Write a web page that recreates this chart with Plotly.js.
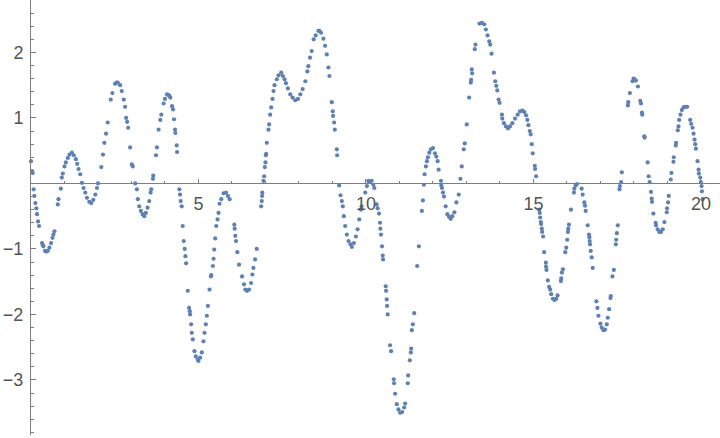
<!DOCTYPE html>
<html>
<head>
<meta charset="utf-8">
<script src="https://cdn.plot.ly/plotly-3.0.1.min.js"></script>
<style>html,body{margin:0;padding:0;background:#fff;}#chart{width:720px;height:438px;}</style>
</head>
<body>
<div id="chart"></div>
<script>
const xs = [0.00,0.03,0.05,0.08,0.10,0.13,0.16,0.18,0.21,0.24,0.33,0.35,0.37,0.42,0.46,0.50,0.55,0.60,0.64,0.67,0.70,0.80,0.82,0.89,0.92,0.95,1.00,1.04,1.10,1.15,1.22,1.28,1.34,1.38,1.42,1.47,1.52,1.57,1.62,1.67,1.74,1.80,1.86,1.92,1.97,2.00,2.10,2.15,2.19,2.24,2.29,2.38,2.43,2.51,2.55,2.59,2.66,2.71,2.77,2.81,2.84,2.87,2.90,2.96,3.01,3.04,3.11,3.16,3.19,3.23,3.28,3.33,3.38,3.43,3.48,3.53,3.57,3.59,3.64,3.65,3.73,3.76,3.81,3.86,3.89,3.96,4.00,4.06,4.10,4.13,4.16,4.21,4.24,4.27,4.30,4.31,4.35,4.36,4.43,4.45,4.47,4.50,4.53,4.56,4.59,4.61,4.63,4.68,4.72,4.74,4.75,4.78,4.80,4.83,4.88,4.92,4.98,5.00,5.05,5.10,5.15,5.18,5.22,5.25,5.28,5.33,5.37,5.38,5.43,5.45,5.47,5.50,5.53,5.57,5.60,5.63,5.68,5.75,5.82,5.88,5.93,6.07,6.08,6.10,6.12,6.16,6.21,6.30,6.36,6.40,6.45,6.51,6.57,6.61,6.64,6.69,6.74,6.87,6.89,6.90,6.905,6.94,6.96,6.98,7.00,7.01,7.02,7.04,7.09,7.11,7.14,7.17,7.21,7.24,7.27,7.34,7.39,7.47,7.52,7.57,7.61,7.67,7.74,7.81,7.89,7.97,8.04,8.11,8.19,8.25,8.28,8.33,8.38,8.44,8.50,8.58,8.61,8.66,8.73,8.78,8.83,8.88,8.91,8.98,9.01,9.02,9.05,9.07,9.13,9.14,9.20,9.24,9.28,9.31,9.34,9.38,9.43,9.48,9.54,9.58,9.64,9.70,9.75,9.80,9.85,9.87,9.98,10.03,10.07,10.10,10.17,10.22,10.25,10.32,10.35,10.39,10.42,10.43,10.45,10.48,10.50,10.51,10.59,10.60,10.62,10.63,10.65,10.72,10.75,10.83,10.84,10.87,10.92,10.97,11.02,11.08,11.14,11.17,11.25,11.26,11.31,11.34,11.35,11.37,11.40,11.44,11.53,11.58,11.67,11.70,11.73,11.75,11.79,11.82,11.85,11.89,11.94,12.00,12.06,12.10,12.14,12.17,12.24,12.25,12.27,12.30,12.33,12.38,12.43,12.48,12.53,12.58,12.64,12.70,12.77,12.82,12.86,12.92,12.95,13.01,13.08,13.13,13.14,13.16,13.17,13.25,13.27,13.39,13.46,13.53,13.58,13.63,13.68,13.71,13.75,13.82,13.86,13.89,13.92,13.96,13.99,14.06,14.07,14.12,14.18,14.24,14.30,14.37,14.45,14.53,14.60,14.67,14.73,14.78,14.82,14.85,14.89,14.92,14.95,14.98,15.04,15.05,15.08,15.17,15.19,15.20,15.22,15.23,15.25,15.26,15.29,15.32,15.37,15.375,15.39,15.43,15.47,15.50,15.53,15.58,15.63,15.68,15.72,15.82,15.83,15.85,15.88,15.95,15.98,16.01,16.03,16.04,16.06,16.12,16.21,16.22,16.26,16.30,16.44,16.47,16.52,16.54,16.56,16.62,16.66,16.67,16.68,16.69,16.71,16.74,16.77,16.88,16.91,16.94,17.00,17.04,17.09,17.14,17.19,17.22,17.26,17.30,17.31,17.36,17.40,17.46,17.47,17.49,17.52,17.57,17.58,17.62,17.64,17.82,17.83,17.88,17.96,17.99,18.02,18.06,18.12,18.19,18.21,18.24,18.25,18.31,18.32,18.41,18.44,18.47,18.51,18.53,18.54,18.58,18.65,18.66,18.71,18.76,18.81,18.86,18.91,18.98,18.99,19.02,19.04,19.10,19.12,19.18,19.19,19.25,19.26,19.31,19.33,19.35,19.39,19.43,19.48,19.53,19.59,19.68,19.71,19.75,19.78,19.81,19.83,19.85,19.90,19.93,19.94,19.98,20.00,20.02,20.03,20.05];
const ys = [0.34,0.19,0.16,-0.09,-0.19,-0.30,-0.38,-0.47,-0.58,-0.65,-0.91,-0.94,-0.96,-1.03,-1.04,-1.03,-0.98,-0.91,-0.83,-0.78,-0.73,-0.32,-0.24,-0.08,0.09,0.15,0.26,0.32,0.39,0.44,0.47,0.43,0.37,0.30,0.22,0.14,0.01,-0.07,-0.14,-0.22,-0.28,-0.30,-0.25,-0.17,-0.07,0.00,0.25,0.44,0.62,0.76,0.93,1.28,1.38,1.52,1.54,1.54,1.50,1.41,1.28,1.17,1.00,0.94,0.85,0.55,0.29,0.26,0.00,-0.09,-0.24,-0.35,-0.42,-0.47,-0.50,-0.45,-0.37,-0.27,-0.14,-0.09,0.07,0.12,0.43,0.55,0.82,0.97,1.05,1.22,1.29,1.36,1.35,1.34,1.31,1.18,1.13,0.98,0.82,0.77,0.58,0.48,-0.09,-0.17,-0.27,-0.35,-0.65,-0.88,-1.00,-1.11,-1.22,-1.64,-1.90,-1.95,-2.00,-2.15,-2.28,-2.38,-2.56,-2.64,-2.69,-2.71,-2.66,-2.58,-2.41,-2.28,-2.15,-2.02,-1.87,-1.62,-1.42,-1.40,-1.26,-1.15,-1.01,-0.84,-0.65,-0.55,-0.45,-0.31,-0.24,-0.15,-0.14,-0.19,-0.24,-0.63,-0.69,-0.80,-0.88,-1.05,-1.24,-1.42,-1.54,-1.62,-1.64,-1.62,-1.52,-1.39,-1.29,-1.16,-1.00,-0.35,-0.27,-0.19,-0.14,0.04,0.11,0.25,0.32,0.43,0.45,0.62,0.82,0.90,1.05,1.16,1.29,1.41,1.50,1.59,1.65,1.69,1.64,1.59,1.53,1.45,1.36,1.31,1.27,1.29,1.36,1.44,1.56,1.71,1.79,1.92,2.02,2.20,2.26,2.33,2.33,2.30,2.21,2.10,1.97,1.77,1.64,1.24,1.10,1.03,0.93,0.82,0.52,0.43,-0.03,-0.18,-0.27,-0.35,-0.50,-0.65,-0.78,-0.88,-0.93,-0.97,-0.91,-0.81,-0.70,-0.55,-0.40,-0.35,-0.14,-0.04,0.04,0.02,0.04,-0.02,-0.07,-0.32,-0.38,-0.46,-0.60,-0.69,-0.78,-0.96,-1.10,-1.16,-1.57,-1.64,-1.77,-1.87,-2.00,-2.47,-2.56,-2.99,-3.05,-3.21,-3.37,-3.45,-3.50,-3.49,-3.42,-3.36,-3.05,-2.93,-2.70,-2.58,-2.52,-2.24,-2.15,-1.98,-1.26,-0.96,-0.42,-0.26,-0.02,0.14,0.26,0.34,0.40,0.47,0.52,0.54,0.46,0.41,0.34,0.21,0.04,-0.03,-0.07,-0.14,-0.20,-0.35,-0.47,-0.51,-0.54,-0.50,-0.44,-0.29,-0.17,0.07,0.26,0.52,0.61,0.90,1.31,1.54,1.58,1.74,1.68,2.05,2.12,2.44,2.45,2.43,2.35,2.26,2.17,2.12,1.98,1.69,1.56,1.49,1.42,1.28,1.23,1.05,0.99,0.92,0.87,0.84,0.87,0.92,0.99,1.05,1.10,1.11,1.09,1.04,0.97,0.89,0.80,0.75,0.60,0.46,0.27,0.22,0.11,-0.40,-0.45,-0.52,-0.59,-0.62,-0.69,-0.74,-0.81,-1.05,-1.21,-1.27,-1.32,-1.48,-1.58,-1.62,-1.69,-1.76,-1.78,-1.76,-1.71,-1.49,-1.45,-1.36,-1.31,-1.05,-0.98,-0.86,-0.74,-0.69,-0.63,-0.40,-0.14,-0.08,-0.03,-0.01,-0.08,-0.17,-0.29,-0.34,-0.42,-0.64,-0.78,-0.82,-0.88,-0.93,-1.03,-1.13,-1.29,-1.80,-1.90,-2.02,-2.14,-2.20,-2.24,-2.23,-2.15,-2.05,-1.92,-1.75,-1.72,-1.42,-1.32,-0.93,-0.86,-0.76,-0.64,-0.09,-0.04,0.02,0.17,1.19,1.24,1.38,1.56,1.60,1.59,1.57,1.48,1.26,1.22,1.08,1.05,0.72,0.70,0.32,0.11,0.02,-0.13,-0.23,-0.28,-0.46,-0.60,-0.64,-0.70,-0.74,-0.74,-0.70,-0.59,-0.44,-0.38,-0.29,-0.19,0.06,0.16,0.33,0.40,0.58,0.62,0.81,0.87,0.97,1.05,1.12,1.16,1.17,1.17,0.97,0.91,0.85,0.76,0.67,0.60,0.53,0.34,0.21,0.15,0.09,0.02,-0.04,-0.12,-0.24];

const xTickVals = [5, 10, 15, 20];
const yTickVals = [-3, -2, -1, 1, 2];
const xRange = [0, 20.57];
const yRange = [-3.84, 2.80];

const axisColor = '#7f7f7f';
const labelFont = {family: 'Liberation Sans, Arial, sans-serif', size: 18, color: '#555555'};

const trace = {
  x: xs, y: ys, type: 'scatter', mode: 'markers',
  marker: {size: 4.2, color: 'rgb(94,129,181)'},
  cliponaxis: false, hoverinfo: 'skip'
};

const layout = {
  width: 720, height: 438,
  margin: {l: 31, r: 0, t: 0, b: 3, pad: 0},
  paper_bgcolor: '#ffffff', plot_bgcolor: '#ffffff',
  showlegend: false,
  xaxis: {
    range: xRange, anchor: 'free', position: -yRange[0] / (yRange[1] - yRange[0]),
    showgrid: false, zeroline: false, showline: true, linecolor: axisColor, linewidth: 1,
    tickmode: 'array', tickvals: xTickVals, ticks: 'inside', ticklen: 4, tickcolor: axisColor, tickwidth: 1,
    minor: {tickmode: 'linear', tick0: 0, dtick: 1, ticks: 'inside', ticklen: 2.5, tickcolor: axisColor, showgrid: false},
    tickfont: labelFont, ticklabelstandoff: 4
  },
  yaxis: {
    range: yRange, showgrid: false, zeroline: false, showline: true, linecolor: axisColor, linewidth: 1,
    tickmode: 'array', tickvals: yTickVals, ticks: 'inside', ticklen: 4.5, tickcolor: axisColor, tickwidth: 1,
    minor: {tickmode: 'linear', tick0: 0, dtick: 0.2, ticks: 'inside', ticklen: 2.5, tickcolor: axisColor, showgrid: false},
    tickfont: labelFont, ticklabelstandoff: 3
  }
};

Plotly.newPlot('chart', [trace], layout, {staticPlot: true, displayModeBar: false});
</script>
</body>
</html>
